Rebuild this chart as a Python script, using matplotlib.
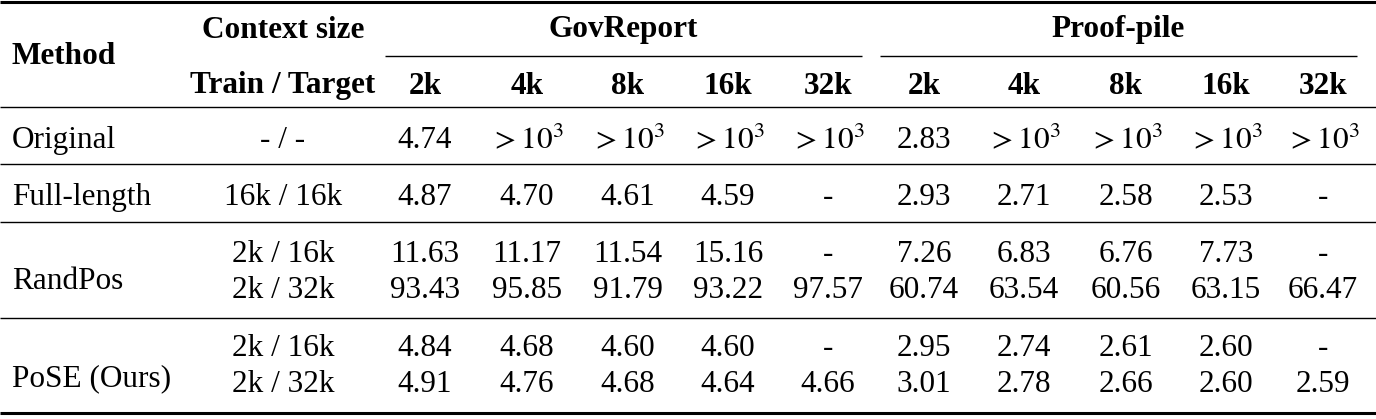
import matplotlib
matplotlib.use("Agg")
import matplotlib.pyplot as plt

plt.rcParams['font.family'] = ['Liberation Serif', 'DejaVu Serif']
plt.rcParams['mathtext.fontset'] = 'stix'

lengths = ["2k", "4k", "8k", "16k", "32k"]
datasets = ["GovReport", "Proof-pile"]
BIG = r"$>10^3$"
methods = ["Original", "Full-length", "RandPos", "PoSE (Ours)"]
contexts = [["- / -"], ["16k / 16k"], ["2k / 16k", "2k / 32k"], ["2k / 16k", "2k / 32k"]]
values = [
    [["4.74", BIG, BIG, BIG, BIG, "2.83", BIG, BIG, BIG, BIG]],
    [["4.87", "4.70", "4.61", "4.59", "-", "2.93", "2.71", "2.58", "2.53", "-"]],
    [["11.63", "11.17", "11.54", "15.16", "-", "7.26", "6.83", "6.76", "7.73", "-"],
     ["93.43", "95.85", "91.79", "93.22", "97.57", "60.74", "63.54", "60.56", "63.15", "66.47"]],
    [["4.84", "4.68", "4.60", "4.60", "-", "2.95", "2.74", "2.61", "2.60", "-"],
     ["4.91", "4.76", "4.68", "4.64", "4.66", "3.01", "2.78", "2.66", "2.60", "2.59"]],
]

W, H = 1376, 419
fig = plt.figure(figsize=(W/100, H/100), dpi=100)
ax = fig.add_axes([0, 0, 1, 1])
ax.set_xlim(0, W); ax.set_ylim(H, 0); ax.axis('off')

fs = 22.5
colx = [425, 527, 628, 728, 828, 924, 1024, 1126, 1226, 1323]
ctx_x = 283

def hl(y, x0=0, x1=W, lw=1.0):
    ax.plot([x0, x1], [y, y], color='black', lw=lw, solid_capstyle='butt')

hl(2, lw=2.2)
hl(56, 385, 862, lw=1.0)
hl(56, 880, 1357, lw=1.0)
hl(107, lw=1.0)
hl(164, lw=1.0)
hl(222, lw=1.0)
hl(318, lw=1.0)
hl(413, lw=2.2)

ax.text(12, 57, "Method", fontsize=fs, fontweight='bold', ha='left', va='center')
ax.text(ctx_x, 30, "Context size", fontsize=fs, fontweight='bold', ha='center', va='center')
ax.text(ctx_x, 86, "Train / Target", fontsize=fs, fontweight='bold', ha='center', va='center')
ax.text((385+862)/2, 30, datasets[0], fontsize=fs, fontweight='bold', ha='center', va='center')
ax.text((880+1357)/2, 30, datasets[1], fontsize=fs, fontweight='bold', ha='center', va='center')
for i, x in enumerate(colx):
    ax.text(x, 86, lengths[i % 5], fontsize=fs, fontweight='bold', ha='center', va='center')

row_ys = [[140], [197], [254, 290], [348, 384]]
label_ys = [140, 197, 281, 379]
for m, ys, ly, ctxs, vals in zip(methods, row_ys, label_ys, contexts, values):
    ax.text(12, ly, m, fontsize=fs, ha='left', va='center')
    for y, c, row in zip(ys, ctxs, vals):
        ax.text(ctx_x, y, c, fontsize=fs, ha='center', va='center')
        for x, v in zip(colx, row):
            ax.text(x, y, v, fontsize=fs, ha='center', va='center')

fig.savefig("out.png", dpi=100)
